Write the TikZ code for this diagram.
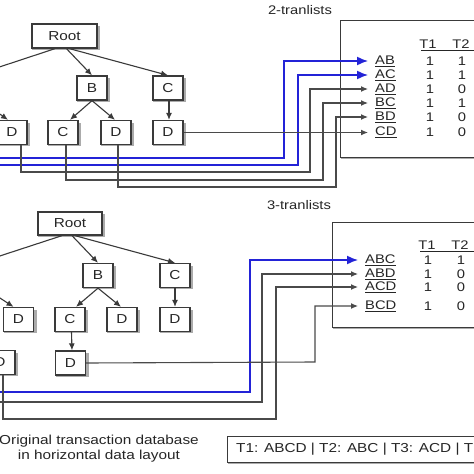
\documentclass[tikz,border=0pt]{standalone}
\usepackage{fontspec}
\setmainfont{Liberation Sans}[FakeStretch=1.18]
\usetikzlibrary{arrows.meta}
\definecolor{ln}{HTML}{4A4A4A}
\definecolor{bd}{HTML}{3A3A3A}
\definecolor{bl}{RGB}{35,35,215}
\definecolor{tx}{HTML}{262626}
\definecolor{sh}{HTML}{ABABAB}
\pgfdeclarelayer{bglayer}
\pgfdeclarelayer{shlayer}
\pgfsetlayers{bglayer,shlayer,main}
\begin{document}
\begin{tikzpicture}[x=1pt,y=-1pt,
  box/.style={draw=bd, line width=1.3pt, fill=white, minimum width=30pt, minimum height=24pt, inner sep=0pt, font=\fontsize{13}{15}\selectfont, text=tx},
  tbl/.style={draw=bd, line width=1pt, fill=white, inner sep=0pt},
  treeline/.style={draw=bd, line width=1.1pt, -{Latex[length=7pt,width=6pt]}},
  gline/.style={draw=ln, line width=1.1pt, -{Latex[length=7pt,width=6pt]}, shorten >=5pt},
  bline/.style={draw=bl, line width=1.5pt, -{Latex[length=11pt,width=9pt]}, shorten >=5pt},
  lab/.style={anchor=west, inner sep=2pt, font=\fontsize{12.5}{14}\selectfont, text=tx},
  val/.style={inner sep=0pt, font=\fontsize{12.5}{14}\selectfont, text=tx},
  ttl/.style={inner sep=0pt, font=\fontsize{12.5}{14}\selectfont, text=tx},
  shadowfill/.style={fill=sh}
]
\useasboundingbox (0,0) rectangle (474,474);
\begin{pgfonlayer}{bglayer}
\fill[white] (0,0) rectangle (474,474);
\end{pgfonlayer}
\clip (0,0) rectangle (474,474);

% ---------- top tree ----------
\node[box, minimum width=65pt] (R1) at (64.5,36) {Root};
\node[box] (B1) at (92,88) {B};
\node[box] (C1) at (168,88) {C};
\node[box] (D1a) at (12,132.5) {D};
\node[box] (C1b) at (63,132.5) {C};
\node[box] (D1b) at (116,132.5) {D};
\node[box] (D1c) at (168,132.5) {D};
\coordinate (A1) at (-40,80);
\coordinate (A1s) at (-20,100);
\draw[treeline] ([xshift=-9.5pt]R1.south) -- (A1);
\draw[treeline] ([xshift=2pt]R1.south) -- (B1.north);
\draw[treeline] ([xshift=5pt]R1.south) -- (C1.north);
\draw[treeline] (A1s) -- ([xshift=-4pt]D1a.north);
\draw[treeline] (B1.south) -- ([xshift=7pt]C1b.north);
\draw[treeline] (B1.south) -- ([xshift=-1pt]D1b.north);
\draw[treeline] ([xshift=1pt]C1.south) -- ([xshift=1pt]D1c.north);

% ---------- top table ----------
\node[ttl] (t2) at (300,10) {2-tranlists};
\node[tbl, anchor=north west, minimum width=170pt, minimum height=137pt] (T2box) at (340,20) {};
\node[val] (h1a) at (428,44) {T1};
\node[val] (h1b) at (461,44) {T2};
\draw[tx, line width=0.7pt] (421,50) -- (480,50);
\foreach \n/\t/\y/\a/\b in {AB/AB/61/1/1, AC/AC/75/1/1, AD/AD/89/1/0, BC/BC/103/1/1, BD/BD/117/1/0, CD/CD/132.5/1/0}{
  \node[lab] (\n) at (373,\y) {\underline{\t}};
  \node[val] at (430,\y) {\a};
  \node[val] at (462,\y) {\b};
}
\coordinate (sAB) at (-10,158);
\coordinate (sAC) at (-10,165);
\draw[bline] (sAB) -- (284,158) |- (AB.west);
\draw[bline] (sAC) -- (298,165) |- (AC.west);
\draw[gline] ([xshift=9pt]D1a.south) |- (310,172) |- (AD.west);
\draw[gline] ([xshift=3pt]C1b.south) |- (323,180) |- (BC.west);
\draw[gline] ([xshift=2pt]D1b.south) |- (336,187) |- (BD.west);
\draw[gline] (D1c.east) -- (CD.west);

% ---------- bottom tree ----------
\node[box, minimum width=64pt, minimum height=23pt] (R2) at (70,223.5) {Root};
\node[box] (B2) at (98,275.5) {B};
\node[box] (C2) at (175,275.5) {C};
\node[box] (D2a) at (18.5,319.5) {D};
\node[box] (C2b) at (70,319.5) {C};
\node[box] (D2b) at (122,319.5) {D};
\node[box] (D2c) at (175,319.5) {D};
\node[box] (D2d) at (0,362.5) {D};
\node[box] (D2e) at (70.5,363) {D};
\coordinate (A2) at (-40,269);
\coordinate (A2s) at (-20,285);
\draw[treeline] ([xshift=-8pt]R2.south) -- (A2);
\draw[treeline] ([xshift=2pt]R2.south) -- (B2.north);
\draw[treeline] ([xshift=5pt]R2.south) -- (C2.north);
\draw[treeline] (A2s) -- ([xshift=-5pt]D2a.north);
\draw[treeline] (B2.south) -- ([xshift=6pt]C2b.north);
\draw[treeline] (B2.south) -- ([xshift=-1pt]D2b.north);
\draw[treeline] (C2.south) -- (D2c.north);
\draw[treeline] ([xshift=1.5pt]C2b.south) -- ([xshift=1.5pt]D2e.north);

% ---------- bottom table ----------
\node[ttl] (t3) at (299,205) {3-tranlists};
\node[tbl, anchor=north west, minimum width=180pt, minimum height=105pt] (T3box) at (332,222) {};
\node[val] (h2a) at (427,245) {T1};
\node[val] (h2b) at (460,245) {T2};
\draw[tx, line width=0.7pt] (420,251) -- (480,251);
\foreach \n/\y/\a/\b in {ABC/260/1/1, ABD/274/1/0, ACD/287/1/0, BCD/306/1/0}{
  \node[lab] (\n) at (363,\y) {\underline{\n}};
  \node[val] at (428,\y) {\a};
  \node[val] at (461,\y) {\b};
}
\coordinate (sABC) at (-10,392);
\coordinate (sABD) at (-10,402);
\draw[bline] (sABC) -- (250,392) |- (ABC.west);
\draw[gline] (sABD) -- (262,402) |- (ABD.west);
\draw[gline] ([xshift=3pt]D2d.south) |- (276,419) |- (ACD.west);
\draw[gline] (D2e.east) -- (315,362) |- (BCD.west);

% ---------- bottom captions ----------
\node[ttl, align=center, font=\fontsize{13}{15}\selectfont] (cap) at (99,449) {Original transaction database\\in horizontal data layout};
\node[tbl, anchor=north west, minimum width=270pt, minimum height=26pt] (hbox) at (227,436) {};
\node[ttl, anchor=west, font=\fontsize{13}{15}\selectfont] (htext) at (236,449) {T1: ABCD | T2: ABC | T3: ACD | T};

% ---------- shadows ----------
\begin{pgfonlayer}{shlayer}
\foreach \s in {R1,B1,C1,D1a,C1b,D1b,D1c,T2box,R2,B2,C2,D2a,C2b,D2b,D2c,D2d,D2e,T3box,hbox}{
  \fill[shadowfill] ([xshift=1pt,yshift=-1pt]\s.south west) rectangle ([xshift=2.5pt,yshift=-3pt]\s.north east);
}
\end{pgfonlayer}
\end{tikzpicture}
\end{document}
